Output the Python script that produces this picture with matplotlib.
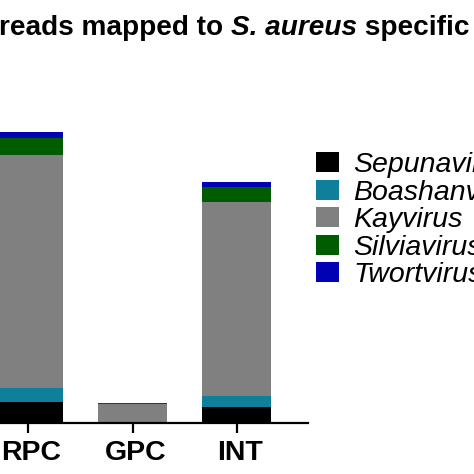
import matplotlib
matplotlib.use("Agg")
import matplotlib.pyplot as plt
import matplotlib.transforms as mtransforms
import numpy as np

# ---- data ----
categories = ["RPC", "GPC", "INT"]
genera = ["Sepunavirus", "Boashanvirus", "Kayvirus", "Silviavirus", "Twortvirus"]
sepunavirus = [7.2, 0.05, 5.3]
boashanvirus = [4.5, 0.05, 3.8]
kayvirus = [77.8, 6.4, 64.8]
silviavirus = [5.6, 0.3, 4.8]
twortvirus = [2.0, 0.1, 1.7]
colors = ["#000000", "#0f7f9c", "#808080", "#005c00", "#0000b4"]

series = [sepunavirus, boashanvirus, kayvirus, silviavirus, twortvirus]

W = H = 474
fig = plt.figure(figsize=(W / 100, H / 100), dpi=100)
plt.rcParams["font.family"] = ["Liberation Sans", "DejaVu Sans"]

# axes placement in pixels (y axis lies outside the visible area)
left_px, right_px = -60, 308
base_px, top_px = 423.3, 123.3
ax = fig.add_axes([left_px / W, (H - base_px) / H,
                   (right_px - left_px) / W, (base_px - top_px) / H])

x = np.arange(len(categories))
bottom = np.zeros(len(categories))
handles = []
for vals, col, name in zip(series, colors, genera):
    b = ax.bar(x, vals, width=0.667, bottom=bottom, color=col,
               edgecolor="none", label=name)
    handles.append(b)
    bottom += np.array(vals)

px_per_unit = 104.2
x0_px = 28.3
ax.set_xlim((left_px - x0_px) / px_per_unit, (right_px - x0_px) / px_per_unit)
ax.set_ylim(0, 100)

ax.spines["top"].set_visible(False)
ax.spines["right"].set_visible(False)
ax.spines["left"].set_visible(False)
ax.spines["bottom"].set_linewidth(1.6)
ax.set_yticks([])
ax.set_xticks(x)
ax.set_xticklabels(categories, fontsize=20.5, fontweight="bold")
ax.tick_params(axis="x", direction="out", length=7, width=1.6, pad=5)
offset = mtransforms.ScaledTranslation(3 / 100, 0, fig.dpi_scale_trans)
for lbl in ax.get_xticklabels():
    lbl.set_transform(lbl.get_transform() + offset)

# legend
leg = fig.legend(handles=handles, labels=genera, loc="upper left",
                 bbox_to_anchor=(316 / W, 1 - 152 / H), frameon=False,
                 prop={"style": "italic", "size": 20.5},
                 handlelength=0.8, handleheight=0.72, handletextpad=0.5,
                 labelspacing=0.05, borderpad=0, borderaxespad=0)

# title (cropped): "reads mapped to S. aureus specific"
title_parts = [("reads mapped to ", "normal"), ("S. aureus", "italic"),
               (" specific", "normal")]
fig.canvas.draw()
renderer = fig.canvas.get_renderer()
xpos = -1.0
for txt, style in title_parts:
    t = fig.text(xpos / W, 1 - 35 / H, txt, fontsize=20.2, fontweight="bold",
                 style=style, ha="left", va="baseline")
    bb = t.get_window_extent(renderer=renderer)
    xpos += bb.width

fig.savefig("out.png", dpi=100)
